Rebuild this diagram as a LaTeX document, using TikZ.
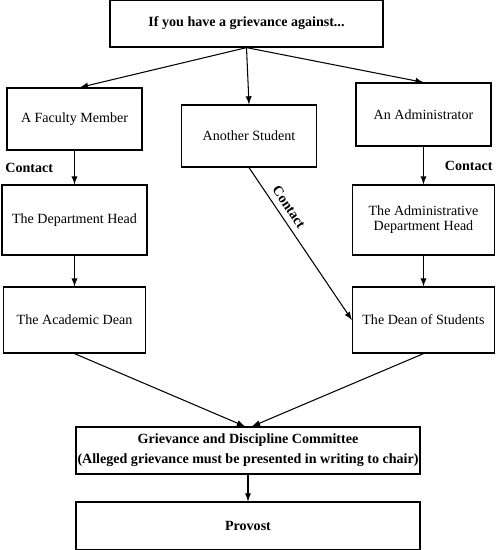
\documentclass[tikz,border=0pt]{standalone}
\usepackage{fontspec}
\setmainfont{Liberation Serif}
\usetikzlibrary{positioning, arrows}

\begin{document}
\begin{tikzpicture} [node distance = 2cm, on grid, auto, >=latex,
    box/.style = {draw, line width=0.7pt, align=center, inner sep=0pt,
      font=\fontsize{8}{8.6}\selectfont},
    boxb/.style = {box, font=\fontsize{8}{9}\selectfont\bfseries},
    lbl/.style = {font=\fontsize{8}{9}\selectfont\bfseries},
    every edge/.style = {draw, ->, line width=0.6pt}]

        \useasboundingbox (0,0) rectangle (10,-11);

        \node (against) [boxb, minimum width=5.46cm, minimum height=0.94cm] at
        (4.93,-0.47) {If you have a grievance against...};

        \node (faculty) [box, minimum width=2.7cm, minimum height=1.24cm] at
        (1.49,-2.38) {A Faculty Member}; \node (student) [box, minimum
        width=2.7cm, minimum height=1.24cm] at (4.98,-2.72) {Another Student};
        \node (admin) [box, minimum width=2.7cm, minimum height=1.26cm] at
        (8.47,-2.29) {An Administrator};

        \node (depthead) [box, minimum width=2.9cm, minimum height=1.4cm,
        below = 2.02cm of faculty] {The Department Head}; \node (acdean) [box,
        minimum width=2.84cm, minimum height=1.32cm, below = of depthead] {The
        Academic Dean};
        \node (admhead) [box, minimum width=2.84cm, minimum height=1.4cm,
        below = 2.11cm of admin] {The Administrative\\Department Head};
        \node (dos) [box, minimum width=2.84cm, minimum height=1.32cm, below =
        of admhead] {The Dean of Students};

        \node (committee) [boxb, minimum width=6.88cm, minimum height=0.94cm,
        font=\fontsize{8}{11.3}\selectfont\bfseries] at (4.96,-9.01)
        {Grievance and Discipline Committee\\(Alleged grievance must be
        presented in writing to chair)}; \node (provost) [boxb, minimum
        width=6.88cm, minimum height=0.96cm, below = 1.51cm of committee]
        {Provost};

        \draw
         (against.south) edge ([xshift=0.11cm]faculty.north)
         (against.south) edge (student.north) (against.south) edge
         (admin.north) (faculty) edge node [lbl, left=0.3cm] {Contact}
         (depthead) (admin) edge node [lbl, right=0.3cm] {Contact} (admhead)
         (student.south) edge node [lbl, sloped, above, pos=0.3] {Contact}
         (dos.west) (depthead) edge (acdean) (admhead) edge (dos)
         (acdean.south) edge ([xshift=-0.06cm]committee.north) (dos.south)
         edge ([xshift=0.08cm]committee.north) (committee) edge (provost);

    \end{tikzpicture}
\end{document}
